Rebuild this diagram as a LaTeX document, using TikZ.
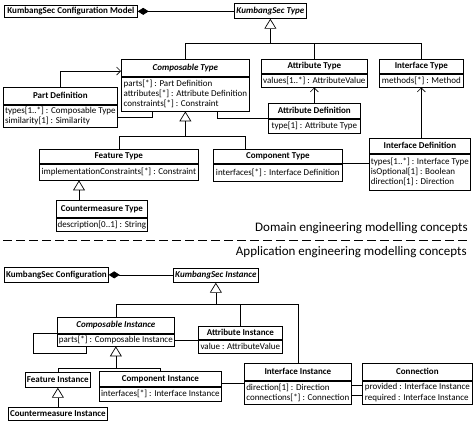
\documentclass[tikz,border=0pt]{standalone}
\usepackage{fontspec}
\setmainfont{Carlito}
\usetikzlibrary{positioning, arrows.meta, calc}

\tikzset{
	head/.style={draw, anchor=north west, inner sep=1pt, font=\fontsize{9}{10.3}\selectfont\bfseries},
	abstract/.style={font=\fontsize{9}{10.3}\selectfont\bfseries\itshape},
	body/.style={draw, align=left, inner sep=1pt, font=\fontsize{9}{10.3}\selectfont},
	gen/.style={-{Triangle[open, length=10pt, width=12pt]}},
	nav/.style={-{Straight Barb[length=4pt, width=8pt]}},
	comp/.style={{Diamond[length=11pt, width=7pt]}-},
	concept/.style={anchor=east, inner sep=0pt, font=\fontsize{13}{15}\selectfont},
	divider/.style={dash pattern=on 9pt off 4pt, line width=1pt},
}

\begin{document}
\begin{tikzpicture}[x=1pt, y=-1pt, line width=0.7pt]
		\useasboundingbox (0,0) rectangle (474,424);
		
		%domain model
		\node[head, minimum width=133pt, minimum height=12pt] (cfgmodel) at (4,5) {KumbangSec Configuration Model};
		\node[head, abstract, minimum width=72pt, minimum height=15pt] (kstype) at (234,3) {KumbangSec Type};
		
		\node[head, abstract, minimum width=128pt, minimum height=17pt] (comptype) at (121,59) {Composable Type};
		\node[body, minimum width=128pt, minimum height=34pt, below=0pt of comptype] (comptype-a) {parts[*] : Part Definition\\attributes[*] : Attribute Definition\\constraints[*] : Constraint};
		
		\node[head, minimum width=114pt, minimum height=17pt] (partdef) at (3,87) {Part Definition};
		\node[body, minimum width=114pt, minimum height=22pt, below=0pt of partdef] (partdef-a) {types[1..*] : Composable Type\\similarity[1] : Similarity};
		
		\node[head, minimum width=106pt, minimum height=14pt] (attrtype) at (261,59) {Attribute Type};
		\node[body, minimum width=106pt, minimum height=13pt, below=0pt of attrtype] (attrtype-a) {values[1..*] : AttributeValue};
		
		\node[head, minimum width=84pt, minimum height=14pt] (ifctype) at (379,59) {Interface Type};
		\node[body, minimum width=84pt, minimum height=13pt, below=0pt of ifctype] (ifctype-a) {methods[*] : Method};
		
		\node[head, minimum width=92pt, minimum height=15pt] (attrdef) at (268,103) {Attribute Definition};
		\node[body, minimum width=92pt, minimum height=14pt, below=0pt of attrdef] (attrdef-a) {type[1] : Attribute Type};
		
		\node[head, minimum width=159pt, minimum height=14pt] (feattype) at (39,149) {Feature Type};
		\node[body, minimum width=159pt, minimum height=16pt, below=0pt of feattype] (feattype-a) {implementationConstraints[*] : Constraint};
		
		\node[head, minimum width=129pt, minimum height=14pt] (cmptype) at (213,149) {Component Type};
		\node[body, minimum width=129pt, minimum height=17pt, below=0pt of cmptype] (cmptype-a) {interfaces[*] : Interface Definition};
		
		\node[head, minimum width=101pt, minimum height=15pt] (ifcdef) at (369,138) {Interface Definition};
		\node[body, minimum width=101pt, minimum height=36pt, below=0pt of ifcdef] (ifcdef-a) {types[1..*] : Interface Type\\isOptional[1] : Boolean\\direction[1] : Direction};
		
		\node[head, minimum width=91pt, minimum height=17pt] (cmtype) at (56,200) {Countermeasure Type};
		\node[body, minimum width=91pt, minimum height=13pt, below=0pt of cmtype] (cmtype-a) {description[0..1] : String};
		
		%domain links
		\draw[comp] (cfgmodel.east) -- (cfgmodel.east -| kstype.west);
		
		\coordinate[below=25pt of kstype.south] (kst-bar);
		\draw[gen] (kst-bar) -- (kstype.south);
		\draw (comptype.north) |- (kst-bar);
		\draw (attrtype.north) |- (kst-bar);
		\draw (ifctype.north) |- (kst-bar);
		
		\coordinate[below=25pt of comptype-a.south] (ct-bar);
		\draw[gen] (ct-bar) -- (comptype-a.south);
		\draw (feattype.north) |- (ct-bar);
		\draw ($(cmptype.north west)+(32,0)$) |- (ct-bar);
		
		\draw[gen] ($(cmtype.north west)+(23,0)$) coordinate (cm-up) -- (cm-up |- feattype-a.south);
		
		\draw[nav] (partdef.north) |- ($(comptype.north west)+(0,12)$);
		\draw ($(comptype-a.south west)+(31,0)$) |- ($(partdef-a.north east)+(0,13)$);
		\draw ($(comptype-a.south west)+(96,0)$) |- (attrdef.south west);
		\draw[nav] (attrdef.north) -- (attrtype-a.south);
		\draw (cmptype-a.north east) -- (cmptype-a.north east -| ifcdef.west);
		\draw[nav] (ifcdef.north -| ifctype-a.south) -- (ifctype-a.south);
		
		%separation
		\node[concept] (domain) at (468,228) {Domain engineering modelling concepts};
		\draw[divider] (3,240) -- (470,240);
		\node[concept] (appl) at (467,252) {Application engineering modelling concepts};
		
		%application model
		\node[head, minimum width=104pt, minimum height=15pt] (cfg) at (4,267) {KumbangSec Configuration};
		\node[head, abstract, minimum width=85pt, minimum height=14pt] (ksinst) at (173,268) {KumbangSec Instance};
		
		\node[head, abstract, minimum width=117pt, minimum height=16pt] (compinst) at (57,317) {Composable Instance};
		\node[body, minimum width=117pt, minimum height=12pt, below=0pt of compinst] (compinst-a) {parts[*] : Composable Instance};
		
		\node[head, minimum width=84pt, minimum height=13pt] (attrinst) at (198,326) {Attribute Instance};
		\node[body, minimum width=84pt, minimum height=13pt, below=0pt of attrinst] (attrinst-a) {value : AttributeValue};
		
		\node[head, minimum width=65pt, minimum height=15pt] (featinst) at (25,372) {Feature Instance};
		
		\node[head, minimum width=122pt, minimum height=15pt] (cmpinst) at (99,371) {Component Instance};
		\node[body, minimum width=122pt, minimum height=14pt, below=0pt of cmpinst] (cmpinst-a) {interfaces[*] : Interface Instance};
		
		\node[head, minimum width=99pt, minimum height=13pt] (cminst) at (8,407) {Countermeasure Instance};
		
		\node[head, minimum width=107pt, minimum height=17pt] (ifcinst) at (244,363) {Interface Instance};
		\node[body, minimum width=107pt, minimum height=23pt, below=0pt of ifcinst] (ifcinst-a) {direction[1] : Direction\\connections[*] : Connection};
		
		\node[head, minimum width=110pt, minimum height=17pt] (conn) at (362,363) {Connection};
		\node[body, minimum width=110pt, minimum height=23pt, below=0pt of conn] (conn-a) {provided : Interface Instance\\required : Interface Instance};
		
		%application links
		\draw[comp] (cfg.east) -- (cfg.east -| ksinst.west);
		
		\coordinate[below=22pt of ksinst.south] (ki-bar);
		\draw[gen] (ki-bar) -- (ksinst.south);
		\draw (compinst.north) |- (ki-bar);
		\draw (attrinst.north) |- (ki-bar);
		\draw (ifcinst.north) |- (ki-bar);
		
		\coordinate[below=22pt of compinst-a.south] (ci-bar);
		\draw[gen] (ci-bar) -- (compinst-a.south);
		\draw (featinst.north) |- (ci-bar);
		\draw (cmpinst.north) |- (ci-bar);
		
		\draw[gen] (cminst.north) -- (featinst.south);
		
		\draw (compinst-a.north west) -| ($(compinst-a.south west)+(-24,7)$) -| ($(compinst-a.south west)+(29,0)$);
		\draw (compinst-a.east) -- (compinst-a.east -| attrinst-a.west);
		\draw ($(cmpinst.south east)+(0,-3)$) coordinate (cp-out) -- (cp-out -| ifcinst-a.west);
		\draw ($(ifcinst-a.east)+(0,-7)$) coordinate (if-out1) -- (if-out1 -| conn-a.west);
		\draw ($(ifcinst-a.east)+(0,3)$) coordinate (if-out2) -- (if-out2 -| conn-a.west);
		
	\end{tikzpicture}
\end{document}
